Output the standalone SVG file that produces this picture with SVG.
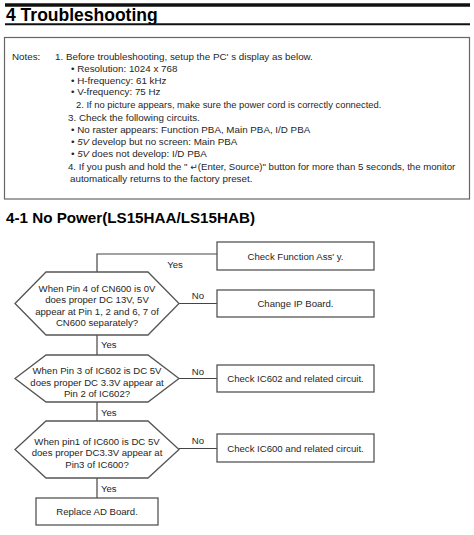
<svg xmlns="http://www.w3.org/2000/svg" width="474" height="535" viewBox="0 0 474 535">
<style>
text{font-family:"Liberation Sans",Arial,sans-serif;fill:#262626}
.h1{font-size:17.5px;font-weight:bold;fill:#000}
.h2{font-size:15.2px;font-weight:bold;fill:#000}
.n{font-size:9.8px}
.f{font-size:9.6px;text-anchor:middle}
.l{font-size:9.6px}
.shape{fill:#fff;stroke:#555;stroke-width:1.3}
.conn{fill:none;stroke:#444;stroke-width:1.2}
</style>
<rect width="474" height="535" fill="#fff"/>
<g id="header">
<line x1="5" y1="5" x2="470" y2="5" stroke="#111" stroke-width="3.4"/>
<text class="h1" x="6" y="21">4 Troubleshooting</text>
<line x1="5" y1="24.3" x2="470" y2="24.3" stroke="#111" stroke-width="2"/>
</g>
<g id="notes">
<rect x="4.5" y="37.5" width="465" height="161.5" fill="none" stroke="#666" stroke-width="1.2"/>
<text class="n" x="12" y="60">Notes:</text>
<text class="n" x="55" y="60">1. Before troubleshooting, setup the PC' s display as below.</text>
<text class="n" x="71" y="72">• Resolution: 1024 x 768</text>
<text class="n" x="71" y="83.5">• H-frequency: 61 kHz</text>
<text class="n" x="71" y="95">• V-frequency: 75 Hz</text>
<text class="n" x="76" y="107.5" style="font-size:9.4px">2. If no picture appears, make sure the power cord is correctly connected.</text>
<text class="n" x="68" y="120.5">3. Check the following circuits.</text>
<text class="n" x="71" y="133">• No raster appears: Function PBA,  Main PBA, I/D PBA</text>
<text class="n" x="71" y="145"><tspan font-style="italic">• 5V</tspan> develop but no screen: Main PBA</text>
<text class="n" x="71" y="157"><tspan font-style="italic">• 5V</tspan> does not develop: I/D PBA</text>
<text class="n" x="68" y="169.5" style="font-size:9.65px">4. If you push and hold the " <tspan font-family="DejaVu Sans" font-size="9">↵</tspan>(Enter, Source)" button for more than 5 seconds, the monitor</text>
<text class="n" x="70" y="181.5">automatically returns to the factory preset.</text>
</g>
<text class="h2" x="6" y="223">4-1 No Power(LS15HAA/LS15HAB)</text>
<g id="connectors">
<polyline class="conn" points="97,272 97,254 217,254"/>
<line class="conn" x1="179" y1="303.5" x2="217" y2="303.5"/>
<line class="conn" x1="97" y1="335" x2="97" y2="355"/>
<line class="conn" x1="179" y1="378.5" x2="217" y2="378.5"/>
<line class="conn" x1="97" y1="402" x2="97" y2="421"/>
<line class="conn" x1="179" y1="448.5" x2="217" y2="448.5"/>
<line class="conn" x1="97" y1="478" x2="97" y2="498"/>
<text class="f" x="175" y="267.5">Yes</text>
<text class="f" x="198" y="298.5">No</text>
<text class="l" x="101" y="348">Yes</text>
<text class="f" x="198" y="374.5">No</text>
<text class="l" x="101" y="415.5">Yes</text>
<text class="f" x="198" y="443.5">No</text>
<text class="l" x="101" y="491.5">Yes</text>
</g>
<g id="q1">
<polygon class="shape" points="15,303.5 46,272 148,272 179,303.5 148,335 46,335"/>
<text class="f" x="97" y="291.5">When Pin 4 of CN600 is 0V</text>
<text class="f" x="97" y="303">does proper DC 13V, 5V</text>
<text class="f" x="97" y="314.5">appear at Pin 1, 2 and 6, 7 of</text>
<text class="f" x="97" y="326">CN600 separately?</text>
</g>
<g id="r1">
<rect class="shape" x="217" y="242" width="157" height="28"/>
<text class="f" x="295.5" y="259.5">Check Function Ass' y.</text>
</g>
<g id="r2">
<rect class="shape" x="217" y="290" width="157" height="27"/>
<text class="f" x="295.5" y="307">Change IP Board.</text>
</g>
<g id="q2">
<polygon class="shape" points="15,378.5 46,355 148,355 179,378.5 148,402 46,402"/>
<text class="f" x="97" y="374">When Pin 3 of IC602 is DC 5V</text>
<text class="f" x="97" y="385.5">does proper DC 3.3V appear at</text>
<text class="f" x="97" y="397">Pin 2 of IC602?</text>
</g>
<g id="r3">
<rect class="shape" x="217" y="365" width="157" height="27"/>
<text class="f" x="295.5" y="382">Check IC602 and related circuit.</text>
</g>
<g id="q3">
<polygon class="shape" points="15,449.5 46,421 148,421 179,449.5 148,478 46,478"/>
<text class="f" x="97" y="444.5">When pin1 of IC600 is DC 5V</text>
<text class="f" x="97" y="456">does proper DC3.3V appear at</text>
<text class="f" x="97" y="467.5">Pin3 of IC600?</text>
</g>
<g id="r4">
<rect class="shape" x="217" y="434" width="157" height="28"/>
<text class="f" x="295.5" y="451.5">Check IC600 and related circuit.</text>
</g>
<g id="r5">
<rect class="shape" x="36" y="498" width="122" height="27"/>
<text class="f" x="97" y="515">Replace AD Board.</text>
</g>
</svg>
